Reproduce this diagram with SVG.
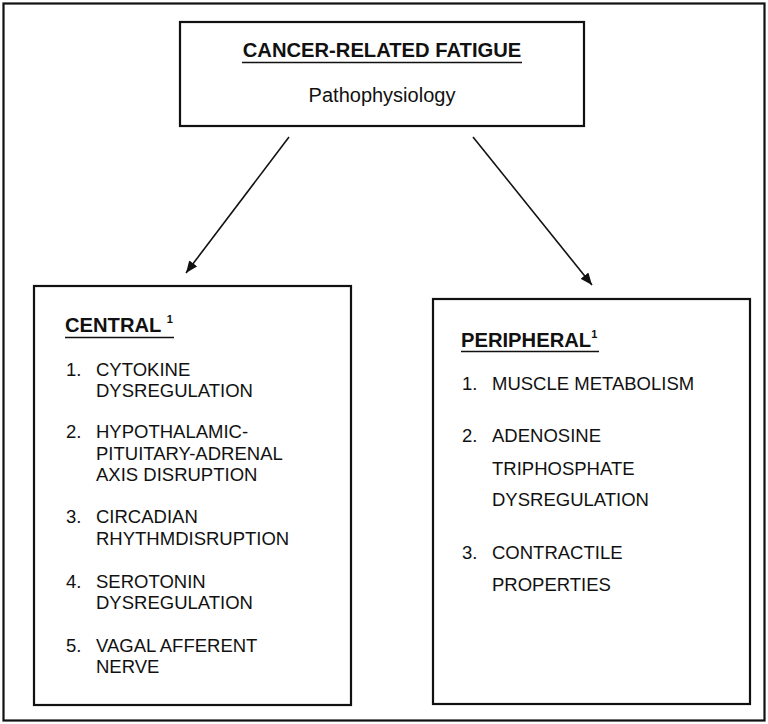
<svg xmlns="http://www.w3.org/2000/svg" width="768" height="724" viewBox="0 0 768 724">
<style>
.box{fill:#fff;stroke:#111;stroke-width:2.2}
.t{font-family:"Liberation Sans",Arial,sans-serif;fill:#111}
.h{font-weight:bold;font-size:20.2px}
.i{font-size:18.5px}
.ul{stroke:#111;stroke-width:1.6}
.conn{stroke:#111;stroke-width:1.6;fill:none}
</style>
<defs>
<marker id="ah" viewBox="0 0 12 10" refX="12" refY="5" markerWidth="12" markerHeight="10" markerUnits="userSpaceOnUse" orient="auto">
<path d="M0,0 L12,5 L0,10 z" fill="#111"/>
</marker>
</defs>
<rect x="0" y="0" width="768" height="724" fill="#fff"/>
<rect x="3.5" y="3.5" width="761" height="717" fill="none" stroke="#111" stroke-width="2.2"/>
<g id="top">
<rect class="box" x="180" y="22" width="404" height="104"/>
<text class="t h" x="382" y="57" text-anchor="middle">CANCER-RELATED FATIGUE</text>
<line class="ul" x1="242" y1="62.5" x2="522" y2="62.5"/>
<text class="t" x="382" y="102" text-anchor="middle" font-size="20">Pathophysiology</text>
</g>
<g id="central">
<rect class="box" x="34" y="286" width="317" height="419"/>
<text class="t h" x="65" y="332">CENTRAL <tspan font-size="11" dy="-9">1</tspan></text>
<line class="ul" x1="65" y1="337.5" x2="174" y2="337.5"/>
<g class="t i">
<text x="66" y="376">1.</text><text x="96" y="376">CYTOKINE</text>
<text x="96" y="397">DYSREGULATION</text>
<text x="66" y="438">2.</text><text x="96" y="438">HYPOTHALAMIC-</text>
<text x="96" y="460">PITUITARY-ADRENAL</text>
<text x="96" y="481">AXIS DISRUPTION</text>
<text x="66" y="523">3.</text><text x="96" y="523">CIRCADIAN</text>
<text x="96" y="545">RHYTHMDISRUPTION</text>
<text x="66" y="588">4.</text><text x="96" y="588">SEROTONIN</text>
<text x="96" y="609">DYSREGULATION</text>
<text x="66" y="652">5.</text><text x="96" y="652">VAGAL AFFERENT</text>
<text x="96" y="673">NERVE</text>
</g>
</g>
<g id="peripheral">
<rect class="box" x="433" y="299" width="317" height="405"/>
<text class="t h" x="461" y="347">PERIPHERAL<tspan font-size="11" dy="-9">1</tspan></text>
<line class="ul" x1="461" y1="351.5" x2="599" y2="351.5"/>
<g class="t i">
<text x="462" y="390">1.</text><text x="492" y="390">MUSCLE METABOLISM</text>
<text x="462" y="442">2.</text><text x="492" y="442">ADENOSINE</text>
<text x="492" y="475">TRIPHOSPHATE</text>
<text x="492" y="506">DYSREGULATION</text>
<text x="462" y="559">3.</text><text x="492" y="559">CONTRACTILE</text>
<text x="492" y="591">PROPERTIES</text>
</g>
</g>
<g id="connectors">
<line class="conn" x1="289" y1="137" x2="186" y2="273" marker-end="url(#ah)"/>
<line class="conn" x1="473" y1="137" x2="592" y2="285" marker-end="url(#ah)"/>
</g>
</svg>
